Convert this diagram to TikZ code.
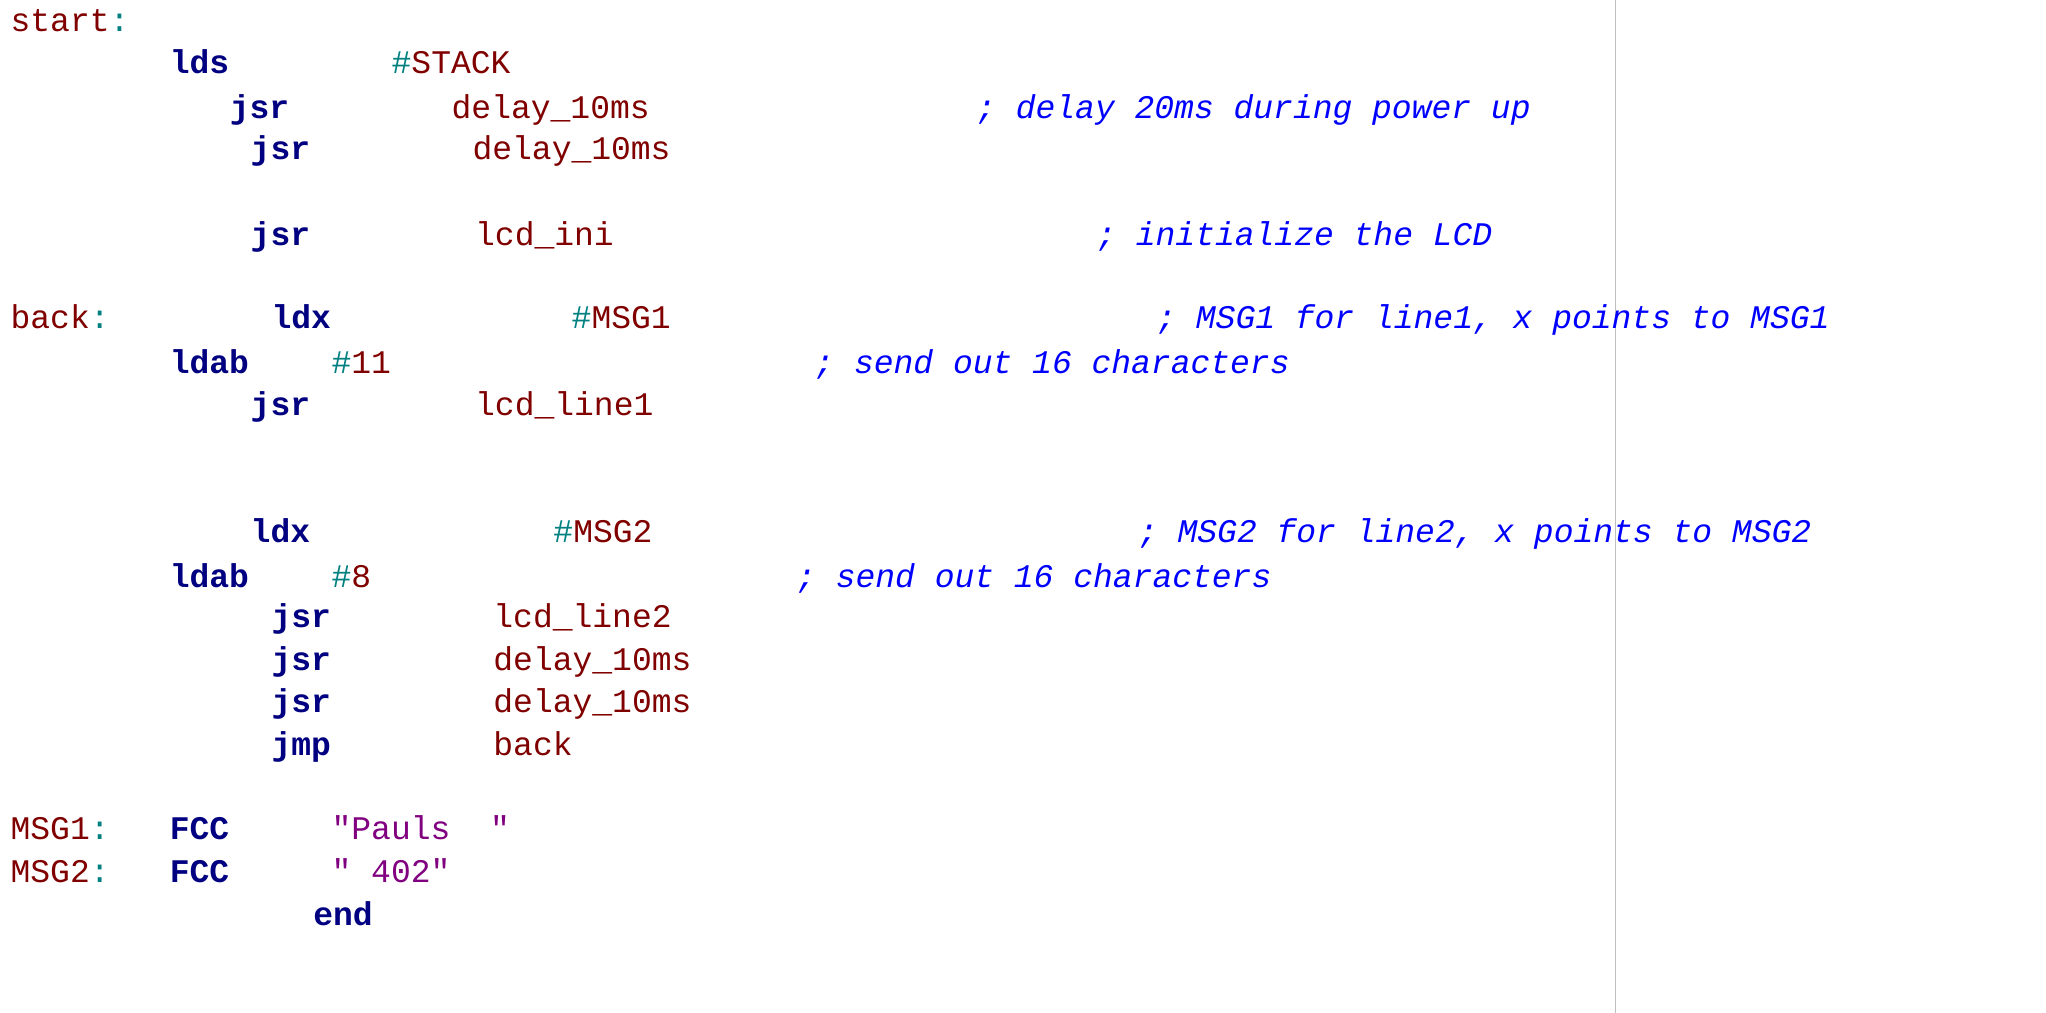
\documentclass[tikz,border=0pt]{standalone}
\usepackage{fontspec}
\setmonofont{Liberation Mono}
\definecolor{kw}{RGB}{0,0,128}
\definecolor{lb}{RGB}{128,0,0}
\definecolor{tl}{RGB}{0,128,128}
\definecolor{cm}{RGB}{0,0,255}
\definecolor{st}{RGB}{128,0,128}
\tikzset{t/.style={anchor=base west,inner sep=0pt,yshift=-8pt,font=\ttfamily\fontsize{33}{33}\selectfont},
 k/.style={t,text=kw,font=\ttfamily\bfseries\fontsize{33}{33}\selectfont},
 r/.style={t,text=lb},
 c/.style={t,text=cm,font=\ttfamily\itshape\fontsize{33}{33}\selectfont},
 s/.style={t,text=st}}
\newcommand{\hs}[1]{\textcolor{tl}{\#}#1}
\newcommand{\lab}[1]{#1\textcolor{tl}{:}}
\begin{document}
\begin{tikzpicture}[x=1.305pt,y=-1.305pt]
\useasboundingbox[fill=white] (0,0) rectangle (1568,776.3);
\draw[gray!50,line width=1.5pt] (1238,0) -- (1238,776.3);
\node[r] (l1) at (8,18) {\lab{start}};
\node[k] (a1) at (130,50) {lds}; \node[r] (b1) at (300,50) {\hs{STACK}};
\node[k] (a2) at (176,85) {jsr}; \node[r] (b2) at (346,85) {delay\_10ms};
\node[c] (c2) at (748,85) {; delay 20ms during power up};
\node[k] (a3) at (192,116) {jsr}; \node[r] (b3) at (362,116) {delay\_10ms};
\node[k] (a4) at (192,182) {jsr}; \node[r] (b4) at (364,182) {lcd\_ini};
\node[c] (c4) at (840,182) {; initialize the LCD};
\node[r] (l2) at (8,246) {\lab{back}};
\node[k] (a5) at (208,246) {ldx}; \node[r] (b5) at (438,246) {\hs{MSG1}};
\node[c] (c5) at (886,246) {; MSG1 for line1, x points to MSG1};
\node[k] (a6) at (130,280) {ldab}; \node[r] (b6) at (254,280) {\hs{11}};
\node[c] (c6) at (624,280) {; send out 16 characters};
\node[k] (a7) at (192,312) {jsr}; \node[r] (b7) at (364,312) {lcd\_line1};
\node[k] (a8) at (192,410) {ldx}; \node[r] (b8) at (424,410) {\hs{MSG2}};
\node[c] (c8) at (872,410) {; MSG2 for line2, x points to MSG2};
\node[k] (a9) at (130,444) {ldab}; \node[r] (b9) at (254,444) {\hs{8}};
\node[c] (c9) at (610,444) {; send out 16 characters};
\node[k] (a10) at (208,475) {jsr}; \node[r] (b10) at (378,475) {lcd\_line2};
\node[k] (a11) at (208,508) {jsr}; \node[r] (b11) at (378,508) {delay\_10ms};
\node[k] (a12) at (208,540) {jsr}; \node[r] (b12) at (378,540) {delay\_10ms};
\node[k] (a13) at (208,573) {jmp}; \node[r] (b13) at (378,573) {back};
\node[r] (l3) at (8,637) {\lab{MSG1}};
\node[k] (a14) at (130,637) {FCC}; \node[s] (b14) at (254,637) {"Pauls~~"};
\node[r] (l4) at (8,670) {\lab{MSG2}};
\node[k] (a15) at (130,670) {FCC}; \node[s] (b15) at (254,670) {"~402"};
\node[k] (a16) at (240,703) {end};
\end{tikzpicture}
\end{document}
